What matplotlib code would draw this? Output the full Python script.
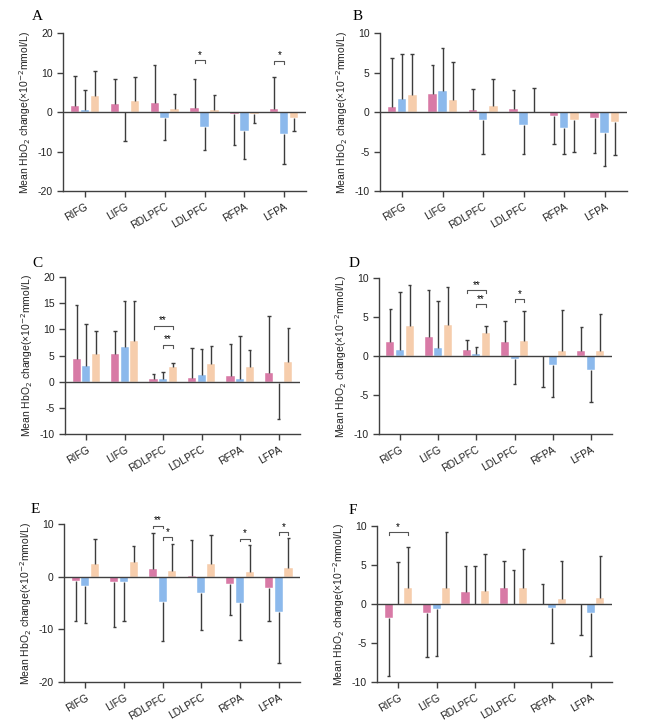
import numpy as np
import matplotlib
matplotlib.use("Agg")
from matplotlib import pyplot as plt

plt.rcParams['font.family'] = ['Liberation Sans', 'DejaVu Sans']

regions = ['RIFG', 'LIFG', 'RDLPFC', 'LDLPFC', 'RFPA', 'LFPA']

# group means (pink, blue, peach) and SDs, one set per panel
A_m1 = [1.4, 2.0, 2.3, 1.1, -0.6, 0.8]
A_m2 = [0.4, -0.1, -1.4, -3.9, -4.9, -5.5]
A_m3 = [4.0, 2.7, 0.8, 0.4, -0.4, -1.4]
A_s1 = [7.6, 6.3, 9.7, 7.2, 7.7, 8.1]
A_s2 = [5.3, 7.2, 5.8, 5.7, 7.1, 7.7]
A_s3 = [6.3, 6.2, 3.8, 3.8, 2.3, 3.5]

B_m1 = [0.6, 2.3, 0.25, 0.4, -0.55, -0.8]
B_m2 = [1.6, 2.6, -1.0, -1.6, -2.0, -2.7]
B_m3 = [2.2, 1.5, 0.7, 0.05, -1.0, -1.2]
B_s1 = [6.2, 3.7, 2.65, 2.4, 3.45, 4.4]
B_s2 = [5.7, 5.5, 4.3, 3.7, 3.3, 4.1]
B_s3 = [5.1, 4.8, 3.5, 3.05, 4.1, 4.25]

C_m1 = [4.3, 5.3, 0.5, 0.75, 1.15, 1.6]
C_m2 = [3.05, 6.55, 0.55, 1.35, 0.55, -0.3]
C_m3 = [5.3, 7.8, 2.9, 3.35, 2.8, 3.8]
C_s1 = [10.3, 4.4, 1.0, 5.75, 6.1, 11.0]
C_s2 = [8.05, 8.85, 1.25, 4.85, 8.25, 6.9]
C_s3 = [4.4, 7.7, 0.65, 3.5, 3.25, 6.4]

D_m1 = [1.75, 2.5, 0.8, 1.85, -0.05, 0.65]
D_m2 = [0.8, 1.05, 0.3, -0.35, -1.1, -1.8]
D_m3 = [3.8, 4.0, 3.0, 1.95, 0.7, 0.6]
D_s1 = [4.3, 6.0, 1.2, 2.65, 3.9, 3.1]
D_s2 = [7.35, 6.05, 0.8, 3.3, 4.2, 4.05]
D_s3 = [5.25, 4.9, 0.8, 3.8, 5.15, 4.75]

E_m1 = [-0.85, -1.1, 1.5, 0.05, -1.35, -2.2]
E_m2 = [-1.7, -0.95, -4.9, -3.05, -4.95, -6.7]
E_m3 = [2.4, 2.85, 1.1, 2.4, 0.8, 1.6]
E_s1 = [7.55, 8.4, 6.8, 7.0, 5.9, 6.3]
E_s2 = [7.1, 7.45, 7.3, 7.05, 7.0, 9.7]
E_s3 = [4.85, 2.95, 5.1, 5.55, 5.3, 5.7]

F_m1 = [-1.85, -1.15, 1.6, 2.0, 0.05, -0.05]
F_m2 = [0.05, -0.7, 0.05, 0.05, -0.45, -1.15]
F_m3 = [2.1, 2.0, 1.65, 2.1, 0.7, 0.75]
F_s1 = [7.35, 5.7, 3.3, 3.45, 2.5, 3.95]
F_s2 = [5.3, 5.95, 4.85, 4.25, 4.55, 5.5]
F_s3 = [5.2, 7.25, 4.7, 4.9, 4.75, 5.45]

# significance marks: (region index, group a, group b, height, label)
A_sig = [(3, 0, 1, 13.1, '*'), (5, 0, 1, 13.0, '*')]
B_sig = []
C_sig = [(2, 0, 2, 10.7, '**'), (2, 1, 2, 7.05, '**')]
D_sig = [(2, 0, 2, 8.4, '**'), (2, 1, 2, 6.65, '**'), (3, 1, 2, 7.3, '*')]
E_sig = [(2, 0, 1, 9.7, '**'), (2, 1, 2, 7.5, '*'), (4, 1, 2, 7.25, '*'), (5, 1, 2, 8.45, '*')]
F_sig = [(0, 0, 2, 9.2, '*')]

colors = ['#d87aa6', '#8cb9ec', '#f6cdac']
err_col = '#3c3c3c'
ax_col = '#404040'

fig = plt.figure(figsize=(6.45, 7.23), dpi=100)

panels = [
    ('A', [0.0977, 0.7358, 0.377, 0.2185], (-20, 20), 10, [A_m1, A_m2, A_m3], [A_s1, A_s2, A_s3], A_sig, (0.050, 0.972)),
    ('B', [0.589, 0.7358, 0.383, 0.2185], (-10, 10), 5, [B_m1, B_m2, B_m3], [B_s1, B_s2, B_s3], B_sig, (0.546, 0.972)),
    ('C', [0.1008, 0.3997, 0.364, 0.2170], (-10, 20), 5, [C_m1, C_m2, C_m3], [C_s1, C_s2, C_s3], C_sig, (0.050, 0.631)),
    ('D', [0.5876, 0.3997, 0.361, 0.2158], (-10, 10), 5, [D_m1, D_m2, D_m3], [D_s1, D_s2, D_s3], D_sig, (0.540, 0.631)),
    ('E', [0.0992, 0.0567, 0.366, 0.2185], (-20, 10), 10, [E_m1, E_m2, E_m3], [E_s1, E_s2, E_s3], E_sig, (0.048, 0.290)),
    ('F', [0.5845, 0.0567, 0.364, 0.2158], (-10, 10), 5, [F_m1, F_m2, F_m3], [F_s1, F_s2, F_s3], F_sig, (0.540, 0.289)),
]

x = np.arange(len(regions))
offs = [-0.25, 0.0, 0.25]
bw = 0.21

for letter, rect, ylim, step, means, sds, sigs, lpos in panels:
    ax = fig.add_axes(rect)
    for g in range(3):
        m = np.array(means[g])
        s = np.array(sds[g])
        xs = x + offs[g]
        ax.bar(xs, m, width=bw, color=colors[g], edgecolor='white', linewidth=0.3, zorder=2)
        ends = np.where(m >= 0, m + s, m - s)
        ax.vlines(xs, m, ends, color=err_col, linewidth=1.0, zorder=3)
        ax.hlines(ends, xs - 0.045, xs + 0.045, color=err_col, linewidth=1.0, zorder=3)
    ax.axhline(0, color=ax_col, linewidth=1.0, zorder=4)
    rng = ylim[1] - ylim[0]
    for ci, ga, gb, h, lab in sigs:
        x1 = ci + offs[ga]
        x2 = ci + offs[gb]
        d = rng * 0.018
        ax.plot([x1, x1, x2, x2], [h - d, h, h, h - d], color='#555555', linewidth=0.8, zorder=5)
        ax.text((x1 + x2) / 2, h + rng * 0.003, lab, ha='center', va='bottom', fontsize=7, zorder=5)
    ax.set_xlim(-0.55, 5.55)
    ax.set_ylim(*ylim)
    ax.set_yticks(np.arange(ylim[0], ylim[1] + 0.1, step))
    ax.set_yticklabels([str(int(t)) for t in np.arange(ylim[0], ylim[1] + 0.1, step)])
    ax.set_xticks(x)
    ax.set_xticklabels(regions, rotation=30, ha='right', rotation_mode='anchor')
    for sp in ['top', 'right']:
        ax.spines[sp].set_visible(False)
    for sp in ['left', 'bottom']:
        ax.spines[sp].set_color(ax_col)
        ax.spines[sp].set_linewidth(1.0)
    ax.tick_params(axis='both', colors=ax_col, labelcolor='#222222', labelsize=7.5, length=4, width=1.0)
    ax.set_ylabel('Mean HbO$_2$ change(×10$^{-2}$mmol/L)', fontsize=7.5, color='#222222', labelpad=3)
    fig.text(lpos[0], lpos[1], letter, fontsize=11, family='Liberation Serif', ha='left', va='baseline')

fig.savefig('out.png', dpi=100)
